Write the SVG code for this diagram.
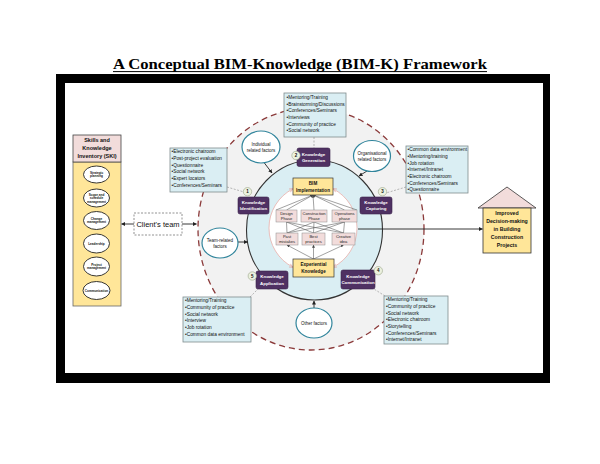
<svg xmlns="http://www.w3.org/2000/svg" width="600" height="464" viewBox="0 0 600 464">
<defs>
<style>
.t{font-family:"Liberation Sans",Arial,sans-serif;fill:#111}
.lst{font-size:4.8px}
.b{font-weight:bold}
.c{text-anchor:middle}
.pur{fill:#4f3163;stroke:#3a2149;stroke-width:0.6}
.pt{font-family:"Liberation Sans",Arial,sans-serif;font-size:4.4px;font-weight:bold;fill:#fff;text-anchor:middle}
.box{fill:#daeef3;stroke:#7f8c8d;stroke-width:0.8}
.num{fill:#ebf1de;stroke:#9aa58a;stroke-width:0.6}
.fac{fill:#fff;stroke:#31859c;stroke-width:1.2}
.ft{font-size:4.5px;text-anchor:middle}
.yel{fill:#ffe699;stroke:#333;stroke-width:0.7}
.pk{fill:#f2dcdb;stroke:#8c8c8c;stroke-width:0.5}
.pkt{font-size:4.1px;text-anchor:middle;fill:#222}
.ski{fill:#fff;stroke:#222;stroke-width:0.9}
.skt{font-size:3.1px;font-weight:bold;text-anchor:middle}
.dl{stroke:#999;stroke-width:0.7;stroke-dasharray:2,1.5;fill:none}
.ln{stroke:#555;stroke-width:0.55;fill:none}
.ar{stroke:#222;stroke-width:0.9;fill:none}
</style>
<marker id="ah" viewBox="0 0 10 10" refX="9" refY="5" markerUnits="userSpaceOnUse" markerWidth="4" markerHeight="4" orient="auto-start-reverse"><path d="M0,0 L10,5 L0,10 z" fill="#222"/></marker>
<marker id="ahs" viewBox="0 0 10 10" refX="9" refY="5" markerUnits="userSpaceOnUse" markerWidth="3" markerHeight="3" orient="auto-start-reverse"><path d="M0,0 L10,5 L0,10 z" fill="#444"/></marker>
<marker id="ahp" viewBox="0 0 10 10" refX="9" refY="5" markerUnits="userSpaceOnUse" markerWidth="4.5" markerHeight="4.5" orient="auto-start-reverse"><path d="M0,1 L10,5 L0,9" fill="none" stroke="#e2a29c" stroke-width="1.5"/></marker>
</defs>

<rect width="600" height="464" fill="#fff"/>

<!-- title -->
<g id="title">
<text x="300" y="69.3" text-anchor="middle" font-family="'Liberation Serif','Times New Roman',serif" font-weight="bold" font-size="15.5" textLength="374" lengthAdjust="spacingAndGlyphs" fill="#000">A Conceptual BIM-Knowledge (BIM-K) Framework</text>
<line x1="113" y1="71.6" x2="487" y2="71.6" stroke="#000" stroke-width="1"/>
</g>

<!-- frame -->
<g id="frame">
<rect x="56" y="74" width="494" height="309" fill="#000"/>
<rect x="65" y="83" width="478" height="290" fill="#fff"/>
</g>

<!-- big circles -->
<g id="outer-circle">
<ellipse cx="311" cy="229" rx="113" ry="121" fill="#f2f2f2" stroke="#8b3a3a" stroke-width="1.3" stroke-dasharray="6,4"/>
</g>
<g id="cycle-circle">
<ellipse cx="314.5" cy="230" rx="68" ry="70" fill="#daeef3" stroke="#333" stroke-width="1.1"/>
</g>
<g id="inner-circle">
<circle cx="313" cy="228" r="44" fill="#fff"/>
<path d="M293,188.8 A44,44 0 0 0 293,267.2" fill="none" stroke="#eab8b3" stroke-width="0.9" marker-start="url(#ahp)" marker-end="url(#ahp)"/>
<path d="M333,188.8 A44,44 0 0 1 333,267.2" fill="none" stroke="#eab8b3" stroke-width="0.9" marker-start="url(#ahp)" marker-end="url(#ahp)"/>
</g>

<!-- connectors -->
<g id="connectors">
<!-- inner network -->
<line class="ln" x1="286.5" y1="210" x2="313" y2="195" marker-end="url(#ahs)"/>
<line class="ln" x1="314" y1="210" x2="313" y2="195" marker-end="url(#ahs)"/>
<line class="ln" x1="344.5" y1="210" x2="313" y2="195" marker-end="url(#ahs)"/>
<line class="ln" x1="276" y1="210" x2="313" y2="195"/>
<line class="ln" x1="357" y1="210" x2="313" y2="195"/>
<line class="ln" x1="287" y1="233" x2="286.5" y2="222"/>
<line class="ln" x1="287" y1="233" x2="314" y2="222"/>
<line class="ln" x1="287" y1="233" x2="344.5" y2="222"/>
<line class="ln" x1="313.5" y1="233" x2="286.5" y2="222"/>
<line class="ln" x1="313.5" y1="233" x2="314" y2="222"/>
<line class="ln" x1="313.5" y1="233" x2="344.5" y2="222"/>
<line class="ln" x1="343.5" y1="233" x2="286.5" y2="222"/>
<line class="ln" x1="343.5" y1="233" x2="314" y2="222"/>
<line class="ln" x1="343.5" y1="233" x2="344.5" y2="222"/>
<line class="ln" x1="313.5" y1="259" x2="287" y2="245" marker-end="url(#ahs)"/>
<line class="ln" x1="313.5" y1="259" x2="313.5" y2="245" marker-end="url(#ahs)"/>
<line class="ln" x1="313.5" y1="259" x2="343.5" y2="245" marker-end="url(#ahs)"/>
<!-- dashed links from lists -->
<line class="dl" x1="314" y1="137" x2="314" y2="148"/>
<line class="dl" x1="227" y1="187" x2="244" y2="192"/>
<line class="dl" x1="406" y1="187" x2="386" y2="193"/>
<line class="dl" x1="250" y1="297" x2="258" y2="289"/>
<line class="dl" x1="385" y1="296" x2="374" y2="289"/>
<!-- factor arrows -->
<line class="ar" x1="264" y1="162.5" x2="272" y2="173" marker-end="url(#ah)"/>
<line class="ar" x1="367" y1="171" x2="359" y2="176" marker-end="url(#ah)"/>
<line class="ar" x1="238" y1="242" x2="247.5" y2="242" marker-end="url(#ah)"/>
<line class="ar" x1="314" y1="308" x2="314" y2="301" marker-end="url(#ah)"/>
<!-- client's team arrows -->
<line class="ar" x1="134" y1="224" x2="121.5" y2="224" marker-end="url(#ah)"/>
<line class="ar" x1="182" y1="224" x2="196.5" y2="224" marker-end="url(#ah)"/>
<!-- output arrow -->
<line class="ar" x1="358" y1="229" x2="482.5" y2="229" marker-end="url(#ah)"/>
</g>

<!-- inner boxes -->
<g id="bim-implementation">
<rect class="yel" x="293" y="178" width="40" height="17"/>
<text class="t b c" font-size="4.6" x="313" y="185">BIM</text>
<text class="t b c" font-size="4.6" x="313" y="191.5">Implementation</text>
</g>
<g id="experiential-knowledge">
<rect class="yel" x="293" y="259" width="41" height="18"/>
<text class="t b c" font-size="4.6" x="313.5" y="266.3">Experiential</text>
<text class="t b c" font-size="4.6" x="313.5" y="272.8">Knowledge</text>
</g>
<g id="design-phase"><rect class="pk" x="276" y="210" width="21" height="12"/><text class="t pkt" x="286.5" y="215">Design</text><text class="t pkt" x="286.5" y="220">Phase</text></g>
<g id="construction-phase"><rect class="pk" x="301" y="210" width="26" height="12"/><text class="t pkt" x="314" y="215">Construction</text><text class="t pkt" x="314" y="220">Phase</text></g>
<g id="operations-phase"><rect class="pk" x="332" y="210" width="25" height="12"/><text class="t pkt" x="344.5" y="215">Operations</text><text class="t pkt" x="344.5" y="220">phase</text></g>
<g id="past-mistakes"><rect class="pk" x="276" y="233" width="22" height="12"/><text class="t pkt" x="287" y="238">Past</text><text class="t pkt" x="287" y="243">mistakes</text></g>
<g id="best-practices"><rect class="pk" x="302" y="233" width="23" height="12"/><text class="t pkt" x="313.5" y="238">Best</text><text class="t pkt" x="313.5" y="243">practices</text></g>
<g id="creative-idea"><rect class="pk" x="332" y="233" width="23" height="12"/><text class="t pkt" x="343.5" y="238">Creative</text><text class="t pkt" x="343.5" y="243">idea</text></g>

<!-- knowledge phases -->
<g id="knowledge-generation">
<rect class="pur" x="297" y="148" width="33" height="18.5" rx="2"/>
<text class="pt" x="313.5" y="155.5">Knowledge</text><text class="pt" x="313.5" y="161.5">Generation</text>
<circle class="num" cx="296" cy="155.5" r="4.2"/><text class="t b c" font-size="4.5" x="296" y="157.1">2</text>
</g>
<g id="knowledge-identification">
<rect class="pur" x="238" y="197" width="31" height="17" rx="2"/>
<text class="pt" x="253.5" y="204">Knowledge</text><text class="pt" x="253.5" y="210">Identification</text>
<circle class="num" cx="247.5" cy="191.7" r="4.2"/><text class="t b c" font-size="4.5" x="247.5" y="193.3">1</text>
</g>
<g id="knowledge-capturing">
<rect class="pur" x="360" y="197" width="32" height="17" rx="2"/>
<text class="pt" x="376" y="204">Knowledge</text><text class="pt" x="376" y="210">Capturing</text>
<circle class="num" cx="382.5" cy="191.7" r="4.2"/><text class="t b c" font-size="4.5" x="382.5" y="193.3">3</text>
</g>
<g id="knowledge-application">
<rect class="pur" x="256" y="271" width="32" height="18" rx="2"/>
<text class="pt" x="272" y="278.3">Knowledge</text><text class="pt" x="272" y="284.5">Application</text>
<circle class="num" cx="252.3" cy="276" r="4.2"/><text class="t b c" font-size="4.5" x="252.3" y="277.6">5</text>
</g>
<g id="knowledge-communication">
<rect class="pur" x="341" y="270" width="34" height="19" rx="2"/>
<text class="pt" x="358" y="277.5">Knowledge</text><text class="pt" x="358" y="283.8">Communication</text>
<circle class="num" cx="378.3" cy="270.7" r="4.2"/><text class="t b c" font-size="4.5" x="378.3" y="272.3">4</text>
</g>

<!-- factors -->
<g id="individual-factors"><ellipse class="fac" cx="261" cy="147" rx="19" ry="16"/><text class="t ft" x="261" y="145.5">Individual</text><text class="t ft" x="261" y="151.5">related factors</text></g>
<g id="organisational-factors"><ellipse class="fac" cx="372" cy="156" rx="18.5" ry="15.5"/><text class="t ft" x="372" y="154.5">Organisational</text><text class="t ft" x="372" y="160.5">related factors</text></g>
<g id="team-factors"><ellipse class="fac" cx="220" cy="243" rx="18" ry="15"/><text class="t ft" x="220" y="241.5">Team-related</text><text class="t ft" x="220" y="247.5">factors</text></g>
<g id="other-factors"><ellipse class="fac" cx="314" cy="323" rx="18" ry="15"/><text class="t ft" x="314" y="324.7">Other factors</text></g>

<!-- list boxes -->
<g id="list-generation">
<rect class="box" x="284" y="93" width="62" height="44"/>
<text class="t lst" x="286.5" y="99">•Mentoring/Training</text>
<text class="t lst" x="286.5" y="105.7">•Brainstorming/Discussions</text>
<text class="t lst" x="286.5" y="112.3">•Conferences/Seminars</text>
<text class="t lst" x="286.5" y="119">•Interviews</text>
<text class="t lst" x="286.5" y="125.7">•Community of practice</text>
<text class="t lst" x="286.5" y="132.3">•Social network</text>
</g>
<g id="list-identification">
<rect class="box" x="170" y="148" width="57" height="44"/>
<text class="t lst" x="171.5" y="153.4">•Electronic chatroom</text>
<text class="t lst" x="171.5" y="160">•Post-project evaluation</text>
<text class="t lst" x="171.5" y="166.7">•Questionnaire</text>
<text class="t lst" x="171.5" y="173.4">•Social network</text>
<text class="t lst" x="171.5" y="180">•Expert locators</text>
<text class="t lst" x="171.5" y="186.7">•Conferences/Seminars</text>
</g>
<g id="list-capturing">
<rect class="box" x="406" y="146" width="62" height="47"/>
<text class="t lst" x="407.5" y="151.3">•Common data environment</text>
<text class="t lst" x="407.5" y="158">•Mentoring/training</text>
<text class="t lst" x="407.5" y="164.6">•Job rotation</text>
<text class="t lst" x="407.5" y="171.3">•Internet/Intranet</text>
<text class="t lst" x="407.5" y="178">•Electronic chatroom</text>
<text class="t lst" x="407.5" y="184.6">•Conferences/Seminars</text>
<text class="t lst" x="407.5" y="191.3">•Questionnaire</text>
</g>
<g id="list-application">
<rect class="box" x="183" y="297" width="68" height="45"/>
<text class="t lst" x="185" y="302.3">•Mentoring/Training</text>
<text class="t lst" x="185" y="309">•Community of practice</text>
<text class="t lst" x="185" y="315.7">•Social network</text>
<text class="t lst" x="185" y="322.3">•Interview</text>
<text class="t lst" x="185" y="329">•Job rotation</text>
<text class="t lst" x="185" y="335.7">•Common data environment</text>
</g>
<g id="list-communication">
<rect class="box" x="384" y="296" width="64" height="48"/>
<text class="t lst" x="386" y="301.3">•Mentoring/Training</text>
<text class="t lst" x="386" y="308">•Community of practice</text>
<text class="t lst" x="386" y="314.6">•Social network</text>
<text class="t lst" x="386" y="321.3">•Electronic chatroom</text>
<text class="t lst" x="386" y="328">•Storytelling</text>
<text class="t lst" x="386" y="334.6">•Conferences/Seminars</text>
<text class="t lst" x="386" y="341.3">•Internet/Intranet</text>
</g>

<!-- SKI -->
<g id="ski">
<rect x="73" y="162" width="48" height="144" fill="#ffe699" stroke="#666" stroke-width="0.8"/>
<rect x="73" y="135" width="48" height="27" fill="#f2dcdb" stroke="#444" stroke-width="0.8"/>
<text class="t b c" font-size="5.5" x="97" y="142">Skills and</text>
<text class="t b c" font-size="5.5" x="97" y="150">Knowledge</text>
<text class="t b c" font-size="5.5" x="97" y="158">Inventory (SKI)</text>
<ellipse class="ski" cx="96.5" cy="174.5" rx="13" ry="8.5"/>
<text class="t skt" x="96.5" y="173.8">Strategic</text><text class="t skt" x="96.5" y="177.4">planning</text>
<ellipse class="ski" cx="96.5" cy="198" rx="13" ry="9"/>
<text class="t skt" x="96.5" y="195.8">Scope and</text><text class="t skt" x="96.5" y="199.4">schedule</text><text class="t skt" x="96.5" y="203">management</text>
<ellipse class="ski" cx="96.5" cy="220.5" rx="13" ry="9"/>
<text class="t skt" x="96.5" y="219.8">Change</text><text class="t skt" x="96.5" y="223.4">management</text>
<ellipse class="ski" cx="96.5" cy="243.5" rx="13" ry="9.5"/>
<text class="t skt" x="96.5" y="244.6">Leadership</text>
<ellipse class="ski" cx="96.5" cy="266.5" rx="13" ry="9.5"/>
<text class="t skt" x="96.5" y="265.8">Project</text><text class="t skt" x="96.5" y="269.4">management</text>
<ellipse class="ski" cx="96.5" cy="290.5" rx="13.5" ry="9"/>
<text class="t skt" x="96.5" y="291.6">Communication</text>
</g>

<!-- client's team -->
<g id="clients-team">
<rect x="134" y="213" width="48" height="22" fill="#fff" stroke="#777" stroke-width="0.8" stroke-dasharray="2,1.5"/>
<text class="t c" font-size="7.5" x="158" y="226.6">Client's team</text>
</g>

<!-- outcome house -->
<g id="outcome">
<polygon points="478,208 507,187 536,208" fill="#f2dcdb" stroke="#333" stroke-width="0.8"/>
<rect x="483" y="208" width="48" height="45" fill="#ffe699" stroke="#333" stroke-width="0.8"/>
<text class="t b c" font-size="5.2" x="507" y="214.5">Improved</text>
<text class="t b c" font-size="5.2" x="507" y="222.5">Decision-making</text>
<text class="t b c" font-size="5.2" x="507" y="230.5">in Building</text>
<text class="t b c" font-size="5.2" x="507" y="238.5">Construction</text>
<text class="t b c" font-size="5.2" x="507" y="246.5">Projects</text>
</g>
</svg>
